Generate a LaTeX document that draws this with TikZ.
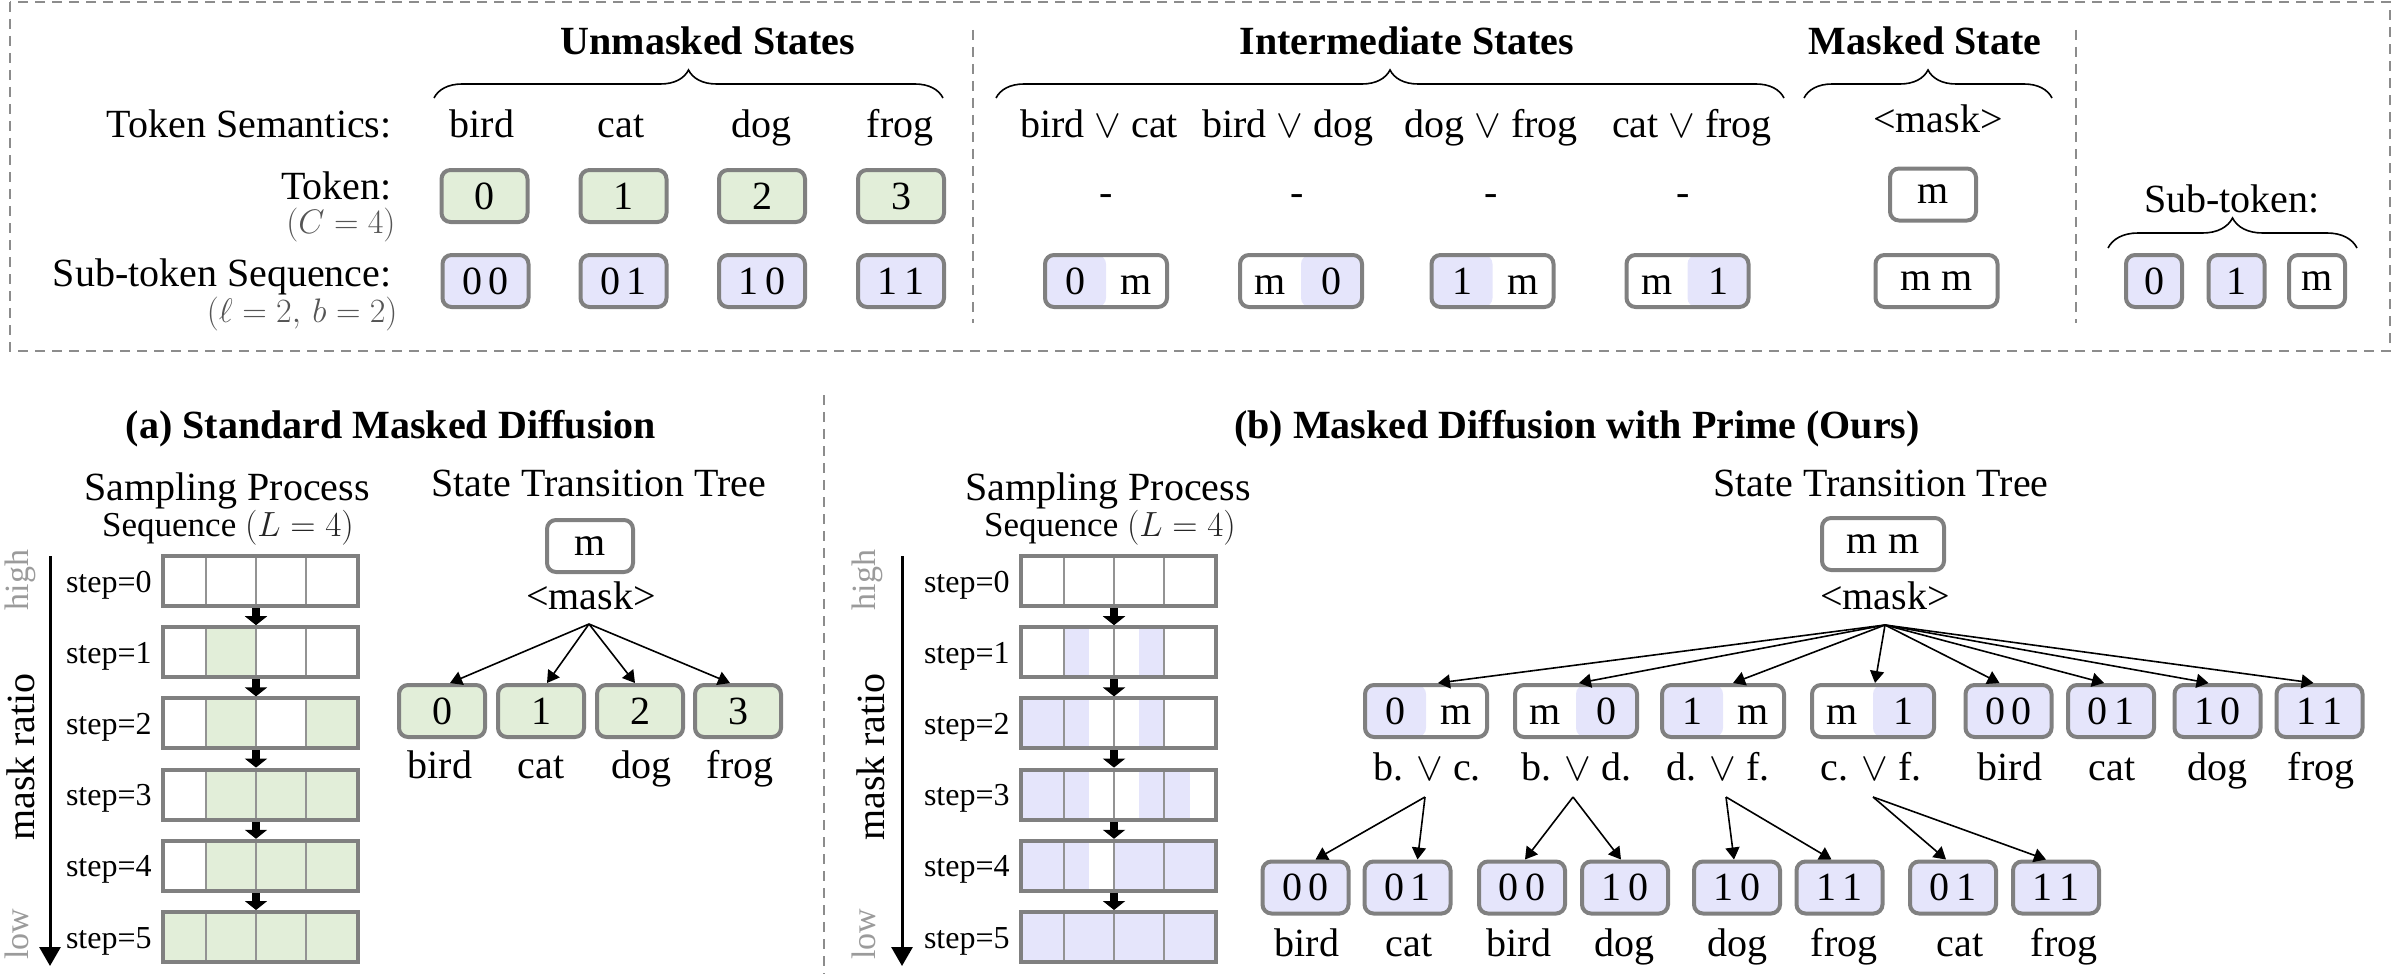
\RequirePackage{fix-cm}
\documentclass[tikz,border=0pt]{standalone}
\usepackage[no-math]{fontspec}
\setmainfont{Liberation Serif}
\usetikzlibrary{arrows.meta,decorations.pathreplacing,calc}
\definecolor{bgray}{RGB}{128,128,128}
\definecolor{dgray}{RGB}{140,140,140}
\definecolor{tgreen}{RGB}{226,238,217}
\definecolor{tblue}{RGB}{229,229,251}
\definecolor{subgray}{RGB}{85,85,85}
\definecolor{hlgray}{RGB}{155,155,155}
\newcommand{\fmain}{\fontsize{20}{24}\selectfont}
\newcommand{\fsub}{\fontsize{17}{20}\selectfont}
\newcommand{\fseq}{\fontsize{17.5}{21}\selectfont}
\newcommand{\fstep}{\fontsize{16}{19}\selectfont}
\newcommand{\hb}[2]{\makebox[30.5pt]{#1}\makebox[30.5pt]{#2}}
\tikzset{
  lbl/.style={font=\fmain, inner sep=0pt, anchor=base},
  ttl/.style={font=\fmain\bfseries, inner sep=0pt, anchor=base},
  sublbl/.style={font=\fsub, text=subgray, inner sep=0pt, anchor=base east},
  tok/.style={draw=bgray, line width=2pt, rounded corners=4.5pt, minimum width=43pt, minimum height=26pt, inner sep=0pt, font=\fmain},
  gtok/.style={tok, fill=tgreen},
  btok/.style={tok, fill=tblue},
  twobox/.style={tok, minimum width=61pt},
  lhalf/.style={twobox, path picture={\fill[tblue] (path picture bounding box.south west) rectangle (path picture bounding box.north);}},
  rhalf/.style={twobox, path picture={\fill[tblue] (path picture bounding box.south) rectangle (path picture bounding box.north east);}},
  onebox/.style={tok, minimum width=28pt},
  seqbox/.style={draw=bgray, line width=2pt, minimum width=97.5pt, minimum height=25pt, inner sep=0pt},
  divider/.style={draw=bgray!85, line width=1pt},
  dashsep/.style={draw=dgray, line width=1pt, dash pattern=on 5pt off 3.5pt},
  brc/.style={decorate, decoration={brace, amplitude=14pt}, line width=0.8pt},
  tarrow/.style={-{Triangle[width=7pt,length=6pt]}, line width=0.8pt},
  sarrow/.style={-{Triangle[width=11pt,length=4.5pt]}, line width=4pt},
  marrow/.style={-{Triangle[width=10.5pt,length=9.5pt]}, line width=1.5pt},
  steplbl/.style={font=\fstep, inner sep=0pt, anchor=base east},
  rotlbl/.style={font=\fmain, rotate=90, anchor=base, inner sep=0pt},
  hllbl/.style={font=\fsub, text=hlgray, rotate=90, anchor=base, inner sep=0pt},
}
\begin{document}
\begin{tikzpicture}[x=0.5pt,y=-0.5pt]
\useasboundingbox (0,0) rectangle (2392,974);
% ================= TOP PANEL =================
\draw[dashsep] (10,2) rectangle (2390,351);
\draw[dashsep] (973,30) -- (973,323);
\draw[dashsep] (2076,30) -- (2076,323);
% row labels
\node[lbl, anchor=base east] (lsem) at (392,137) {Token Semantics:};
\node[lbl, anchor=base east] (ltok) at (392,199) {Token:};
\node[sublbl] (lC) at (396,233) {$(C=4)$};
\node[lbl, anchor=base east] (lsub) at (392,286) {Sub-token Sequence:};
\node[sublbl] (llb) at (398,322) {$(\ell=2,\, b=2)$};
% titles and braces
\node[ttl] (hun) at (708,55) {Unmasked States};
\draw[brc] (434,98) -- (943,98);
\node[ttl] (hin) at (1407,55) {Intermediate States};
\draw[brc] (996,98) -- (1784,98);
\node[ttl] (hma) at (1925,55) {Masked State};
\draw[brc] (1804,98) -- (2052,98);
% unmasked column
\node[lbl] (s0) at (482,137) {bird};
\node[lbl] (s1) at (621,137) {cat};
\node[lbl] (s2) at (761,137) {dog};
\node[lbl] (s3) at (900,137) {frog};
\node[gtok] (t0) at (484.5,196) {0};
\node[gtok] (t1) at (623.5,196) {1};
\node[gtok] (t2) at (762,196) {2};
\node[gtok] (t3) at (901,196) {3};
\node[btok] (q0) at (485.5,281) {0\,0};
\node[btok] (q1) at (623.5,281) {0\,1};
\node[btok] (q2) at (762,281) {1\,0};
\node[btok] (q3) at (901,281) {1\,1};
% intermediate column
\node[lbl] (s4) at (1099,137) {bird $\vee$ cat};
\node[lbl] (s5) at (1288,137) {bird $\vee$ dog};
\node[lbl] (s6) at (1491,137) {dog $\vee$ frog};
\node[lbl] (s7) at (1692,137) {cat $\vee$ frog};
\node[lbl] (d4) at (1106,205) {-};
\node[lbl] (d5) at (1297,205) {-};
\node[lbl] (d6) at (1491,205) {-};
\node[lbl] (d7) at (1683,205) {-};
\node[lhalf] (i4) at (1106,281) {\hb{0}{m}};
\node[rhalf] (i5) at (1301,281) {\hb{m}{0}};
\node[lhalf] (i6) at (1492.5,281) {\hb{1}{m}};
\node[rhalf] (i7) at (1687.5,281) {\hb{m}{1}};
% masked column
\node[lbl] (s8) at (1938,133) {<mask>};
\node[tok] (t8) at (1933,194.5) {m};
\node[twobox] (q8) at (1936.5,281) {m m};
% sub-token legend
\node[lbl] (hst) at (2232,212) {Sub-token:};
\draw[brc, decoration={brace, amplitude=15pt}] (2108,248) -- (2357,248);
\node[onebox, fill=tblue] (st0) at (2154,281) {0};
\node[onebox, fill=tblue] (st1) at (2236.5,281) {1};
\node[onebox] (st2) at (2317,281) {m};
% ================= BOTTOM (a) =================
\draw[dashsep] (824,395) -- (824,974);
\node[ttl] (ha) at (391,438) {(a) Standard Masked Diffusion};
\node[lbl] (spa) at (227,500) {Sampling Process};
\node[font=\fseq, inner sep=0pt, anchor=base] (sqa) at (228,536) {Sequence \textcolor{black!85}{$(L=4)$}};
\node[lbl] (sta) at (599,496) {State Transition Tree};
% mask ratio axis (a)
\coordinate (amt) at (50,556);
\coordinate (amb) at (50,966);
\draw[marrow] (amt) -- (amb);
\node[rotlbl] (mra) at (34,757) {mask ratio};
\node[hllbl] (hia) at (28,580) {high};
\node[hllbl] (loa) at (28,934) {low};
% sampling rows (a)
\foreach \i/\cl in {1/{2},2/{2,4},3/{2,3,4},4/{2,3,4},5/{1,2,3,4}}{
  \pgfmathsetmacro{\yc}{581+71.2*\i}
  \foreach \c in \cl {
    \pgfmathsetmacro{\xa}{{163,206,256,306,358}[\c-1]}
    \pgfmathsetmacro{\xb}{{163,206,256,306,358}[\c]}
    \fill[tgreen] (\xa,\yc-25) rectangle (\xb,\yc+25);
  }
}
\foreach \i in {0,...,5}{
  \pgfmathsetmacro{\yc}{581+71.2*\i}
  \foreach \x in {206,256,306} \draw[divider] (\x,\yc-25) -- (\x,\yc+25);
  \node[seqbox] (sa\i) at (260.5,\yc) {};
  \node[steplbl] (la\i) at ([xshift=-4.5pt,yshift=-5.5pt]sa\i.west) {step=\i};
}
\coordinate (dva) at (256,0);
\foreach \i [evaluate=\i as \j using int(\i+1)] in {0,...,4}
  \draw[sarrow] (sa\i.south -| dva) -- (sa\j.north -| dva);
% tree (a)
\node[tok] (ra) at (590,546) {m};
\node[lbl] (rma) at (591,609) {<mask>};
\coordinate (ao) at (589,624);
\node[gtok] (a0) at (442,711) {0};
\node[gtok] (a1) at (541,711) {1};
\node[gtok] (a2) at (640,711) {2};
\node[gtok] (a3) at (738,711) {3};
\draw[tarrow] (ao) -- ([xshift=4pt]a0.north);
\draw[tarrow] (ao) -- ([xshift=3pt]a1.north);
\draw[tarrow] (ao) -- ([xshift=-2.5pt]a2.north);
\draw[tarrow] (ao) -- ([xshift=-4pt]a3.north);
\node[lbl] (wa0) at (440,778) {bird};
\node[lbl] (wa1) at (541,778) {cat};
\node[lbl] (wa2) at (641,778) {dog};
\node[lbl] (wa3) at (740,778) {frog};
% ================= BOTTOM (b) =================
\node[ttl] (hb) at (1577,438) {(b) Masked Diffusion with Prime (Ours)};
\node[lbl] (spb) at (1108,500) {Sampling Process};
\node[font=\fseq, inner sep=0pt, anchor=base] (sqb) at (1110,536) {Sequence \textcolor{black!85}{$(L=4)$}};
\node[lbl] (stb) at (1881,496) {State Transition Tree};
% mask ratio axis (b)
\coordinate (bmt) at (902,556);
\coordinate (bmb) at (902,966);
\draw[marrow] (bmt) -- (bmb);
\node[rotlbl] (mrb) at (884,757) {mask ratio};
\node[hllbl] (hib) at (875,580) {high};
\node[hllbl] (lob) at (875,934) {low};
% sampling rows (b)
\foreach \i/\cl in {1/{3,6},2/{1,2,3,6},3/{1,2,3,6,7},4/{1,2,3,5,6,7,8},5/{1,2,3,4,5,6,7,8}}{
  \pgfmathsetmacro{\yc}{581+71.2*\i}
  \foreach \c in \cl {
    \pgfmathsetmacro{\xa}{{1021,1042.5,1064,1089,1114,1139,1164,1190,1216}[\c-1]}
    \pgfmathsetmacro{\xb}{{1021,1042.5,1064,1089,1114,1139,1164,1190,1216}[\c]}
    \fill[tblue] (\xa,\yc-25) rectangle (\xb,\yc+25);
  }
}
\foreach \i in {0,...,5}{
  \pgfmathsetmacro{\yc}{581+71.2*\i}
  \foreach \x in {1064,1114,1164} \draw[divider] (\x,\yc-25) -- (\x,\yc+25);
  \node[seqbox] (sb\i) at (1118.5,\yc) {};
  \node[steplbl] (lb\i) at ([xshift=-4.5pt,yshift=-5.5pt]sb\i.west) {step=\i};
}
\coordinate (dvb) at (1114,0);
\foreach \i [evaluate=\i as \j using int(\i+1)] in {0,...,4}
  \draw[sarrow] (sb\i.south -| dvb) -- (sb\j.north -| dvb);
% tree (b)
\node[twobox] (rb) at (1883,544) {m m};
\node[lbl] (rmb) at (1885,609) {<mask>};
\coordinate (bo) at (1885,625);
\node[lhalf] (b1) at (1426,711) {\hb{0}{m}};
\node[rhalf] (b2) at (1576,711) {\hb{m}{0}};
\node[lhalf] (b3) at (1723,711) {\hb{1}{m}};
\node[rhalf] (b4) at (1873,711) {\hb{m}{1}};
\node[btok] (b5) at (2008.5,711) {0\,0};
\node[btok] (b6) at (2111,711) {0\,1};
\node[btok] (b7) at (2217.5,711) {1\,0};
\node[btok] (b8) at (2319.5,711) {1\,1};
\draw[tarrow] (bo) -- ([xshift=6pt]b1.north);
\draw[tarrow] (bo) -- ([xshift=1.5pt]b2.north);
\draw[tarrow] (bo) -- ([xshift=5pt]b3.north);
\draw[tarrow] (bo) -- ([xshift=1pt]b4.north);
\draw[tarrow] (bo) -- ([xshift=-4.5pt]b5.north);
\draw[tarrow] (bo) -- ([xshift=-3.5pt]b6.north);
\draw[tarrow] (bo) -- ([xshift=-4.5pt]b7.north);
\draw[tarrow] (bo) -- ([xshift=-3pt]b8.north);
\node[lbl] (wb1) at (1427,780) {b. $\vee$ c.};
\node[lbl] (wb2) at (1576,780) {b. $\vee$ d.};
\node[lbl] (wb3) at (1718,780) {d. $\vee$ f.};
\node[lbl] (wb4) at (1871,780) {c. $\vee$ f.};
\node[lbl] (wb5) at (2010,780) {bird};
\node[lbl] (wb6) at (2112,780) {cat};
\node[lbl] (wb7) at (2217,780) {dog};
\node[lbl] (wb8) at (2321,780) {frog};
\coordinate (o1) at (1425,797);
\coordinate (o2) at (1573,797);
\coordinate (o3) at (1726,797);
\coordinate (o4) at (1873,797);
\node[btok] (c1) at (1305.5,887.5) {0\,0};
\node[btok] (c2) at (1407.5,887.5) {0\,1};
\node[btok] (c3) at (1522,887.5) {0\,0};
\node[btok] (c4) at (1625,887.5) {1\,0};
\node[btok] (c5) at (1737,887.5) {1\,0};
\node[btok] (c6) at (1839.5,887.5) {1\,1};
\node[btok] (c7) at (1953,887.5) {0\,1};
\node[btok] (c8) at (2056,887.5) {1\,1};
\draw[tarrow] (o1) -- ([xshift=5pt]c1.north);
\draw[tarrow] (o1) -- ([xshift=5pt]c2.north);
\draw[tarrow] (o2) -- ([xshift=1.5pt]c3.north);
\draw[tarrow] (o2) -- ([xshift=-2pt]c4.north);
\draw[tarrow] (o3) -- ([xshift=-1.5pt]c5.north);
\draw[tarrow] (o3) -- ([xshift=-4pt]c6.north);
\draw[tarrow] (o4) -- ([xshift=-3.5pt]c7.north);
\draw[tarrow] (o4) -- ([xshift=-5pt]c8.north);
\node[lbl] (wc1) at (1307,956) {bird};
\node[lbl] (wc2) at (1409,956) {cat};
\node[lbl] (wc3) at (1519,956) {bird};
\node[lbl] (wc4) at (1624,956) {dog};
\node[lbl] (wc5) at (1737,956) {dog};
\node[lbl] (wc6) at (1844,956) {frog};
\node[lbl] (wc7) at (1960,956) {cat};
\node[lbl] (wc8) at (2064,956) {frog};
\end{tikzpicture}
\end{document}
